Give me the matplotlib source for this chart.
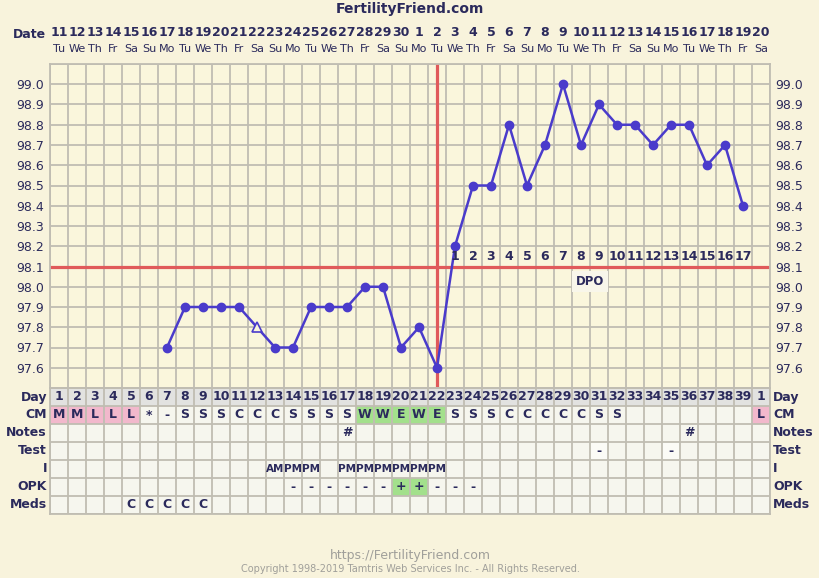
import matplotlib
matplotlib.use("Agg")
import matplotlib.pyplot as plt
import matplotlib.transforms as mtransforms
from matplotlib.patches import Rectangle
import numpy as np

# ---------------- data ----------------
cycle_days = list(range(1, 40)) + [1]
dates = list(range(11, 31)) + list(range(1, 21))
weekday_cycle = ["Tu", "We", "Th", "Fr", "Sa", "Su", "Mo"]
weekdays = [weekday_cycle[i % 7] for i in range(40)]
temps = [None, None, None, None, None, None,
         97.7, 97.9, 97.9, 97.9, 97.9, 97.8, 97.7, 97.7, 97.9, 97.9, 97.9,
         98.0, 98.0, 97.7, 97.8, 97.6, 98.2, 98.5, 98.5, 98.8, 98.5, 98.7,
         99.0, 98.7, 98.9, 98.8, 98.8, 98.7, 98.8, 98.8, 98.6, 98.7, 98.4,
         None]
open_marker_days = [12]
coverline = 98.1
ovulation_day = 22
dpo_labels = [str(i) for i in range(1, 18)]
dpo_start_day = 23
cm = ["M", "M", "L", "L", "L", "*", "-", "S", "S", "S", "C", "C", "C", "S",
      "S", "S", "S", "W", "W", "E", "W", "E", "S", "S", "S", "C", "C", "C",
      "C", "C", "S", "S", "", "", "", "", "", "", "", "L"]
notes = {17: "#", 36: "#"}
test = {31: "-", 35: "-"}
intercourse = {13: "AM", 14: "PM", 15: "PM", 17: "PM", 18: "PM", 19: "PM",
               20: "PM", 21: "PM", 22: "PM"}
opk = {14: "-", 15: "-", 16: "-", 17: "-", 18: "-", 19: "-", 20: "+",
       21: "+", 22: "-", 23: "-", 24: "-"}
meds = {5: "C", 6: "C", 7: "C", 8: "C", 9: "C"}
row_labels = ["Day", "CM", "Notes", "Test", "I", "OPK", "Meds"]
temp_ticks = [round(97.5 + 0.1 * i, 1) for i in range(17)]

# ---------------- style ----------------
BG = "#f8f3dc"
PLOT_BG = "#faf6dc"
GRID = "#c0bdb2"
TXT = "#2b2a5c"
LINE = "#4a3bcb"
RED = "#e05a5a"
PINK = "#f2b8cc"
GREEN = "#a3e08c"
CELL = "#f6f6ee"
DAYROW = "#e2e2e0"

W, H = 820, 578
fig = plt.figure(figsize=(W / 100, H / 100), dpi=100, facecolor=BG)
plt.rcParams["font.family"] = ["DejaVu Sans"]

L, R, T, B = 50, 770, 64, 388
ax = fig.add_axes([L / W, 1 - B / H, (R - L) / W, (B - T) / H])
ax.set_facecolor(PLOT_BG)
n = len(dates)
x = np.arange(1, n + 1)
ax.set_xlim(0.5, n + 0.5)
ax.set_ylim(97.5, 99.1)
ax.set_xticks(np.arange(0.5, n + 1, 1))
ax.set_xticklabels([])
ax.set_yticks(temp_ticks)
ax.set_yticklabels(["" if (t < 97.55 or t > 99.05) else f"{t:.1f}" for t in temp_ticks])
ax.tick_params(axis="both", length=0, labelsize=9, colors=TXT,
               labelleft=True, labelright=True, pad=4)
ax.grid(True, color=GRID, linewidth=1.3)
for s in ax.spines.values():
    s.set_color(GRID)
    s.set_linewidth(1.3)
ax.set_axisbelow(True)

# coverline & ovulation line
ax.axhline(coverline, color=RED, linewidth=2.3, zorder=2)
ax.axvline(ovulation_day, color=RED, linewidth=2.3, zorder=2)

# temperature line
tx = [xi for xi, t in zip(x, temps) if t is not None]
ty = [t for t in temps if t is not None]
ax.plot(tx, ty, color=LINE, linewidth=1.8, zorder=3)
for xi, t in zip(tx, ty):
    if xi in open_marker_days:
        ax.plot(xi, t, marker="^", markersize=7, markerfacecolor=PLOT_BG,
                markeredgecolor=LINE, markeredgewidth=1.2, zorder=4)
    else:
        ax.plot(xi, t, marker="o", markersize=6, color=LINE, zorder=4)

# DPO labels
for i, lab in enumerate(dpo_labels):
    ax.text(dpo_start_day + i, coverline + 0.05, lab, ha="center", va="center",
            fontsize=9, fontweight="bold", color=TXT, zorder=5)
ax.text(30.5, coverline - 0.075, "DPO", ha="center", va="center", fontsize=8.5,
        fontweight="bold", color=TXT, zorder=5,
        bbox=dict(boxstyle="square,pad=0.35", facecolor="#f8f6ea", edgecolor="none"))

# header
bt = mtransforms.blended_transform_factory(ax.transData, fig.transFigure)
for xi, d, wd in zip(x, dates, weekdays):
    ax.text(xi, 1 - 32 / H, str(d), transform=bt, ha="center", va="center",
            fontsize=9, fontweight="bold", color=TXT, clip_on=False)
    ax.text(xi, 1 - 49 / H, wd, transform=bt, ha="center", va="center",
            fontsize=8, color=TXT, clip_on=False)
fig.text(46 / W, 1 - 35 / H, "Date", ha="right", va="center", fontsize=9,
         fontweight="bold", color=TXT)
fig.text(0.5, 1 - 9 / H, "FertilityFriend.com", ha="center", va="center",
         fontsize=10, fontweight="bold", color=TXT)

# ---------------- table ----------------
TB = 514
tax = fig.add_axes([L / W, 1 - TB / H, (R - L) / W, (TB - B) / H])
tax.set_xlim(0.5, n + 0.5)
tax.set_ylim(len(row_labels), 0)
tax.set_facecolor(CELL)
tax.set_xticks(np.arange(0.5, n + 1, 1))
tax.set_yticks(np.arange(0, len(row_labels) + 1, 1))
tax.set_xticklabels([])
tax.set_yticklabels([])
tax.tick_params(length=0)
tax.grid(True, color=GRID, linewidth=1.3)
tax.set_axisbelow(False)
for s in tax.spines.values():
    s.set_color(GRID)
    s.set_linewidth(1.3)

# day row background
tax.add_patch(Rectangle((0.5, 0), n, 1, facecolor=DAYROW, edgecolor="none", zorder=0.5))
for i, v in enumerate(cm):
    col = PINK if v in ("M", "L", "H") else GREEN if v in ("W", "E") else None
    if col:
        tax.add_patch(Rectangle((x[i] - 0.5, 1), 1, 1, facecolor=col,
                                edgecolor="none", zorder=0.5))
for dday, v in opk.items():
    if v == "+":
        tax.add_patch(Rectangle((dday - 0.5, 5), 1, 1, facecolor=GREEN,
                                edgecolor="none", zorder=0.5))
for dday in test:
    tax.add_patch(Rectangle((dday - 0.5, 3), 1, 1, facecolor="#fbfbf6",
                            edgecolor="none", zorder=0.5))

def cell(dday, row, s, size=9):
    tax.text(dday, row + 0.5, s, ha="center", va="center", fontsize=size,
             fontweight="bold", color=TXT, zorder=3)

for xi, cd in zip(x, cycle_days):
    cell(xi, 0, str(cd))
for xi, v in zip(x, cm):
    if v:
        cell(xi, 1, v)
for dday, v in notes.items():
    cell(dday, 2, v)
for dday, v in test.items():
    cell(dday, 3, v)
for dday, v in intercourse.items():
    cell(dday, 4, v, size=7.5)
for dday, v in opk.items():
    cell(dday, 5, v)
for dday, v in meds.items():
    cell(dday, 6, v)

bt2 = mtransforms.blended_transform_factory(fig.transFigure, tax.transData)
for r, lab in enumerate(row_labels):
    tax.text(47 / W, r + 0.5, lab, transform=bt2, ha="right", va="center",
             fontsize=9, fontweight="bold", color=TXT, clip_on=False)
    tax.text(773 / W, r + 0.5, lab, transform=bt2, ha="left", va="center",
             fontsize=9, fontweight="bold", color=TXT, clip_on=False)

# footer
fig.text(0.5, 1 - 556 / H, "https://FertilityFriend.com", ha="center", va="center",
         fontsize=9, color="#a09f9a")
fig.text(0.5, 1 - 569 / H,
         "Copyright 1998-2019 Tamtris Web Services Inc. - All Rights Reserved.",
         ha="center", va="center", fontsize=7, color="#a09f9a")

fig.savefig("out.png", dpi=100, facecolor=BG)
